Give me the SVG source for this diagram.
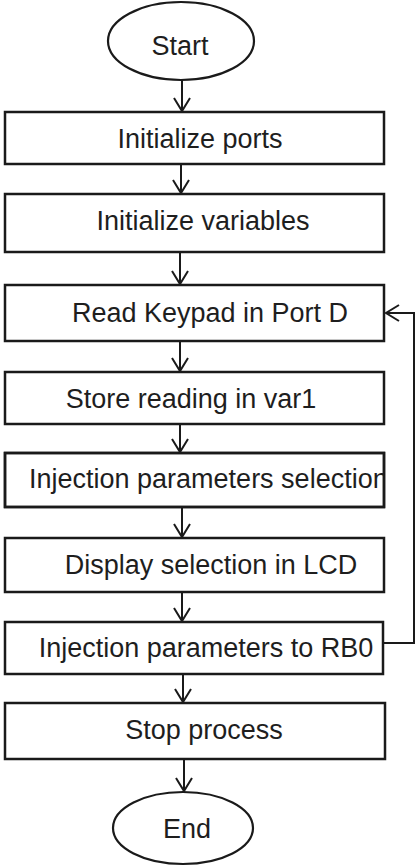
<svg xmlns="http://www.w3.org/2000/svg" width="419" height="867" viewBox="0 0 419 867">
<style>
.box{fill:#fff;stroke:#1a1a1a;stroke-width:2.5}
.term{fill:#fff;stroke:#1a1a1a;stroke-width:2.2}
.lbl{font-family:"Liberation Sans",Arial,sans-serif;font-size:27px;fill:#1e1e1e;text-anchor:middle}
.con{fill:none;stroke:#1a1a1a;stroke-width:2;marker-end:url(#ah)}
</style>
<defs>
<marker id="ah" markerUnits="userSpaceOnUse" markerWidth="18" markerHeight="20" refX="14" refY="9" orient="auto">
<path d="M1,1 L14,9 L1,17" fill="none" stroke="#1a1a1a" stroke-width="2"/>
</marker>
<clipPath id="c5"><rect x="5" y="453" width="379" height="54"/></clipPath>
</defs>
<g id="connectors">
<path class="con" d="M182,80 V111"/>
<path class="con" d="M181,164 V193"/>
<path class="con" d="M180,252 V284"/>
<path class="con" d="M180,341 V371"/>
<path class="con" d="M180,424 V452"/>
<path class="con" d="M182,507 V537"/>
<path class="con" d="M182,592 V621"/>
<path class="con" d="M183,674 V702"/>
<path class="con" d="M184,759 V791"/>
<path class="con" d="M383,643 H414 V313 H386"/>
</g>
<g id="start"><ellipse class="term" cx="181" cy="41" rx="73" ry="39"/><text class="lbl" x="180" y="55">Start</text></g>
<g id="init-ports"><rect class="box" x="5" y="112" width="379" height="52"/><text class="lbl" x="200" y="148">Initialize ports</text></g>
<g id="init-vars"><rect class="box" x="5" y="194" width="379" height="58"/><text class="lbl" x="203" y="230">Initialize variables</text></g>
<g id="read-keypad"><rect class="box" x="5" y="285" width="379" height="56"/><text class="lbl" x="210" y="322">Read Keypad in Port D</text></g>
<g id="store"><rect class="box" x="5" y="372" width="379" height="52"/><text class="lbl" x="191" y="408">Store reading in var1</text></g>
<g id="selection"><rect class="box" x="5" y="453" width="379" height="54"/><text class="lbl" clip-path="url(#c5)" x="29" y="488" style="text-anchor:start">Injection parameters selection</text><rect x="5" y="453" width="379" height="54" fill="none" stroke="#1a1a1a" stroke-width="2.5"/></g>
<g id="display"><rect class="box" x="5" y="538" width="379" height="54"/><text class="lbl" x="211" y="574">Display selection in LCD</text></g>
<g id="to-rb0"><rect class="box" x="5" y="622" width="378" height="52"/><text class="lbl" x="206" y="657">Injection parameters to RB0</text></g>
<g id="stop"><rect class="box" x="5" y="703" width="380" height="56"/><text class="lbl" x="204" y="739">Stop process</text></g>
<g id="end"><ellipse class="term" cx="183" cy="828" rx="70" ry="36"/><text class="lbl" x="187" y="838">End</text></g>
</svg>
